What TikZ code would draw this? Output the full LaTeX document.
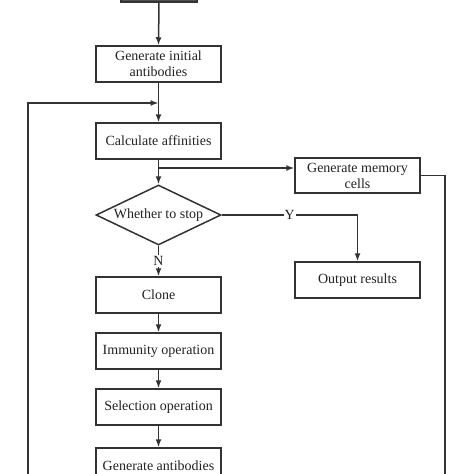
\documentclass[tikz,border=0pt]{standalone}
\usepackage{fontspec}
\setmainfont{Liberation Serif}
\usetikzlibrary{shapes.geometric,arrows.meta}
\definecolor{ln}{HTML}{333333}
\definecolor{tx}{HTML}{222222}
\tikzset{
  box/.style={draw=ln, line width=1.5pt, fill=white, minimum width=125pt, minimum height=36pt, inner sep=2pt, align=center, text=tx, font=\fontsize{14}{16}\selectfont},
  dia/.style={draw=ln, line width=1.5pt, fill=white, shape=diamond, aspect=2.08, minimum width=125pt, minimum height=60pt, inner sep=0pt, text=tx, font=\fontsize{14}{16}\selectfont},
  arr/.style={draw=ln, line width=1.5pt, -{Latex[length=8pt,width=6pt]}},
  ln/.style={draw=ln, line width=1.5pt},
  lbl/.style={fill=white, inner sep=1pt, text=tx, font=\fontsize{14}{16}\selectfont}
}
\begin{document}
\begin{tikzpicture}[x=1pt,y=-1pt]
\clip (0,0) rectangle (474,474);
\fill[white] (0,0) rectangle (474,474);
\node[draw=ln, fill=ln!85, minimum width=76pt, minimum height=30pt, line width=1.5pt] (start) at (159,-13) {};
\node[box] (init) at (158.5,64) {Generate initial\\antibodies};
\node[box] (calc) at (158.5,141) {Calculate affinities};
\node[box, minimum height=35pt] (mem) at (357.5,175.5) {Generate memory\\cells};
\node[dia] (dec) at (158.5,215) {Whether to stop};
\node[box] (out) at (357.5,280) {Output results};
\node[box] (clone) at (158.5,295) {Clone};
\node[box] (imm) at (158.5,351) {Immunity operation};
\node[box] (sel) at (158.5,407) {Selection operation};
\node[box] (gen) at (158.5,466) {Generate antibodies};
\coordinate (lbot) at (28,480);
\coordinate (ljoin) at (158.5,103);
\coordinate (br) at (158.5,168);
\coordinate (rbot) at (445,480);
\draw[arr] (start.south) -- (init.north);
\draw[arr] (init.south) -- (calc.north);
\draw[arr] (lbot) -- (lbot |- ljoin) -- (ljoin);
\draw[arr] (calc.south) -- (dec.north);
\draw[arr] (br) -- (br -| mem.west);
\draw[ln] (mem.east) -- (mem.east -| rbot) -- (rbot);
\draw[arr] (dec.east) -- node[lbl]{Y} (dec.east -| out.north) -- (out.north);
\draw[arr] (dec.south) -- node[lbl]{N} (clone.north);
\draw[arr] (clone.south) -- (imm.north);
\draw[arr] (imm.south) -- (sel.north);
\draw[arr] (sel.south) -- (gen.north);
\end{tikzpicture}
\end{document}
